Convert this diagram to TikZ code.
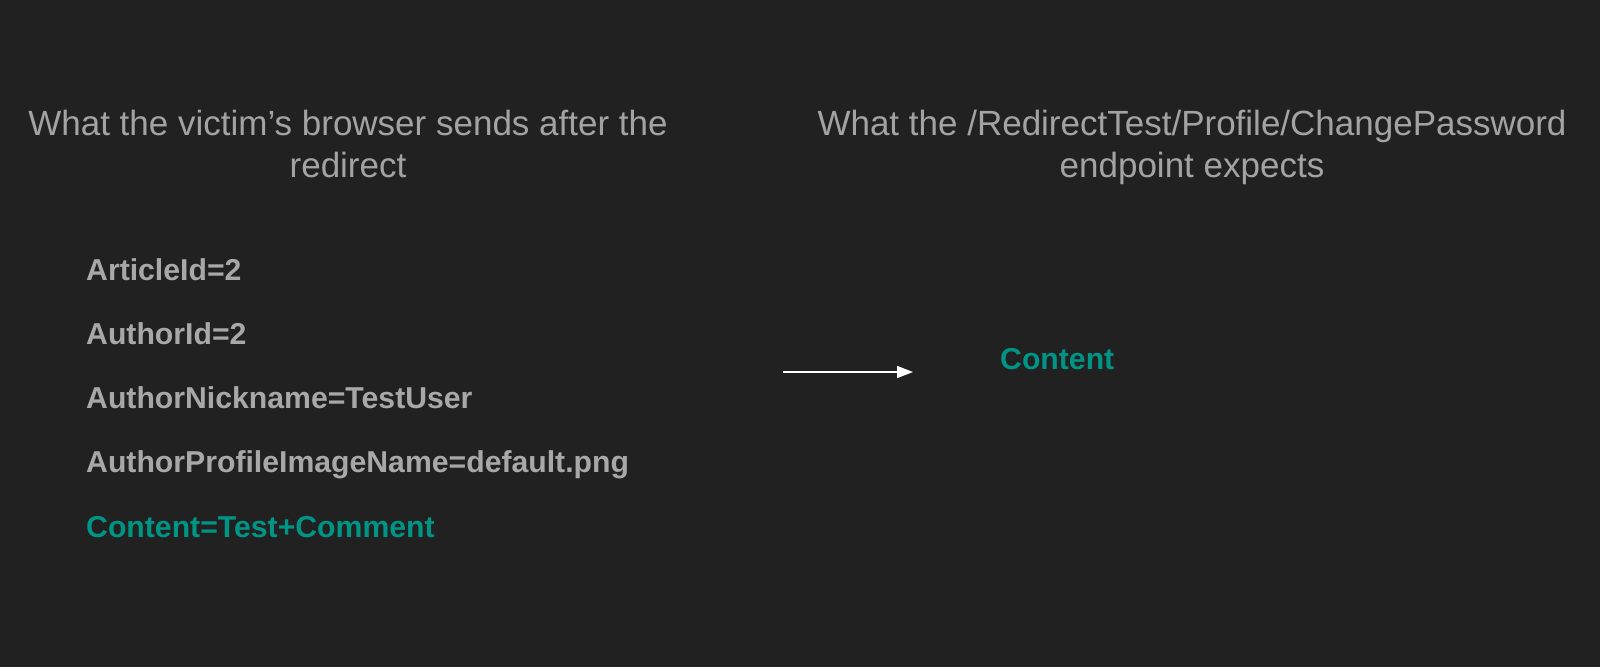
\documentclass[tikz,border=0pt]{standalone}
\usepackage{fontspec}
\setmainfont{Liberation Sans}
\definecolor{bg}{HTML}{212121}
\definecolor{ttl}{HTML}{A3A3A3}
\definecolor{itm}{HTML}{A8A8A8}
\definecolor{teal}{HTML}{009485}
\usetikzlibrary{arrows.meta}
\begin{document}
\begin{tikzpicture}[x=1pt,y=-1pt,
  title/.style={text=ttl,font=\fontsize{35}{42}\selectfont,align=center,anchor=base,inner sep=0pt},
  item/.style={text=itm,font=\fontsize{30.2}{34}\selectfont\bfseries,anchor=base west,inner sep=0pt},
  hl/.style={item,text=teal}]
\fill[bg] (0,0) rectangle (1600,667);
\useasboundingbox (0,0) rectangle (1600,667);
\node[title] (t1) at (348,177) {What the victim’s browser sends after the\\redirect};
\node[title] (t2) at (1192,177) {What the /RedirectTest/Profile/ChangePassword\\endpoint expects};
\node[item] (a1) at (86,280) {ArticleId=2};
\node[item] (a2) at (86,344) {AuthorId=2};
\node[item] (a3) at (86,408) {AuthorNickname=TestUser};
\node[item] (a4) at (86,472) {AuthorProfileImageName=default.png};
\node[hl] (a5) at (86,537) {Content=Test+Comment};
\node[hl] (c) at (1000,369) {Content};
\coordinate (s) at (783,372);
\coordinate (e) at (913,372);
\draw[white,line width=1.6pt,-{Triangle[length=16pt,width=12pt]}] (s) -- (e);
\end{tikzpicture}
\end{document}
